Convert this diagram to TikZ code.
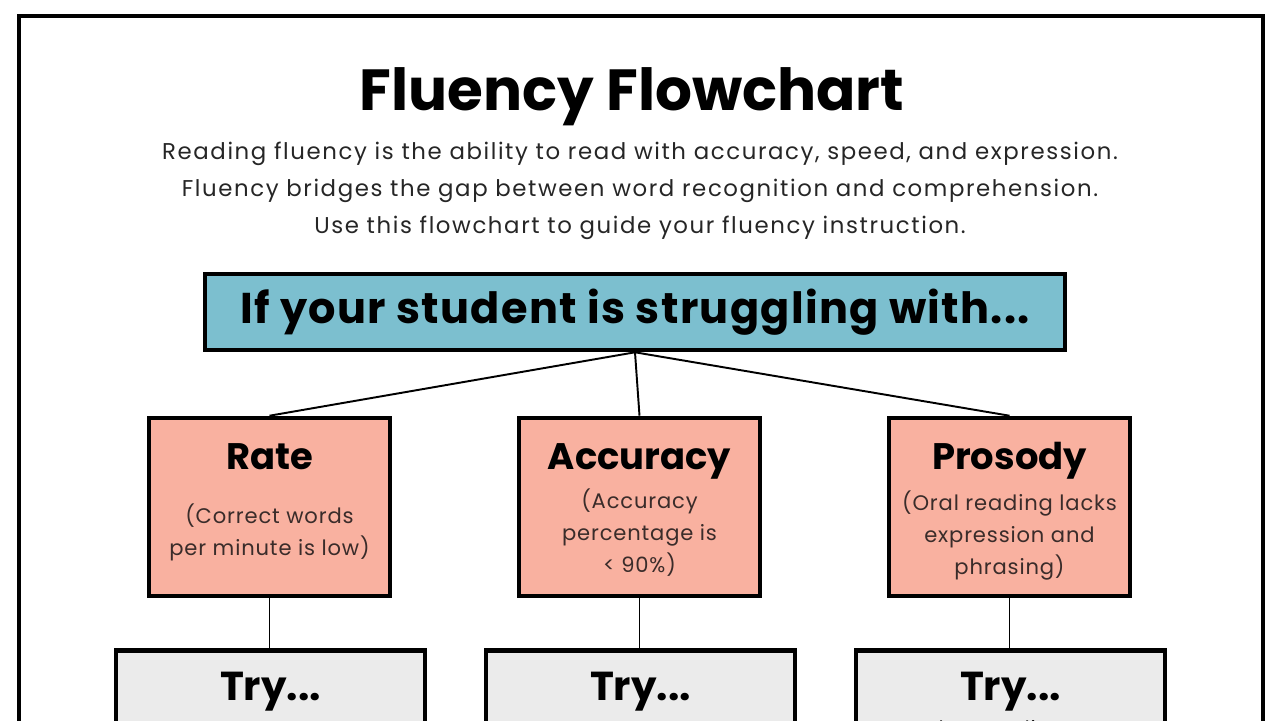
\documentclass[tikz,border=0pt]{standalone}
\usepackage{fontspec}
\setmainfont{Poppins}
\usetikzlibrary{positioning}

\definecolor{askblue}{HTML}{7CBFCF}
\definecolor{issuesalmon}{HTML}{F9B1A0}
\definecolor{trygray}{HTML}{EBEBEB}
\definecolor{desctext}{HTML}{3A2C2A}

\begin{document}
\begin{tikzpicture}[node distance=.3cm and 1cm]
  \tikzstyle{askbox} = [rectangle, draw=black, line width=2.6pt, fill=askblue, minimum width=17.2cm, minimum height=1.52cm, inner sep=0pt]
  \tikzstyle{issuebox} = [rectangle, draw=black, line width=2.6pt, fill=issuesalmon, minimum width=4.82cm, minimum height=3.56cm]
  \tikzstyle{trybox} = [rectangle, draw=black, line width=2.6pt, fill=trygray, minimum width=6.18cm, minimum height=4cm, anchor=north]
  \tikzstyle{issuehead} = [anchor=base, inner sep=0pt, font=\bfseries\fontsize{21}{25}\selectfont]
  \tikzstyle{issuetext} = [anchor=north, inner sep=0pt, align=center, text=desctext, font=\addfontfeatures{LetterSpace=4}\fontsize{12}{18.2}\selectfont]
  \tikzstyle{tryhead} = [anchor=base, inner sep=0pt, font=\bfseries\fontsize{23}{27}\selectfont]
  \tikzstyle{connector} = [line width=1.1pt]

  % Page and frame
  \useasboundingbox (0,0) rectangle (25.6,-14.4);
  \clip (0,0) rectangle (25.6,-14.4);
  \fill[white] (0,0) rectangle (25.6,-14.4);
  \draw[line width=2.6pt] (0.38,-0.32) rectangle (25.26,-15);

  % Heading
  \node (title) at (12.64,-2.2) [anchor=base, font=\bfseries\fontsize{33}{40}\selectfont] {Fluency Flowchart};
  \node (intro) at (12.8,-3.82) [align=center, text=black!85, font=\addfontfeatures{LetterSpace=7}\fontsize{13}{21}\selectfont]
    {Reading fluency is the ability to read with accuracy, speed, and expression.\\
     Fluency bridges the gap between word recognition and comprehension.\\
     Use this flowchart to guide your fluency instruction.};

  % Question box
  \node (ask) at (12.7,-6.24) [askbox, font=\bfseries\addfontfeatures{LetterSpace=3}\fontsize{24.5}{28}\selectfont] {If your student is struggling with...};

  % Problem areas
  \node (rate) at (5.39,-10.14) [issuebox] {};
  \node (accuracy) at (12.79,-10.14) [issuebox] {};
  \node (prosody) at (20.19,-10.14) [issuebox] {};
  \node (ratehead) at (5.39,-9.39) [issuehead] {Rate};
  \node (accuracyhead) at (12.79,-9.38) [issuehead] {Accuracy};
  \node (prosodyhead) at (20.19,-9.38) [issuehead] {Prosody};
  \node (ratetext) at (5.39,-10.07) [issuetext] {(Correct words\\per minute is low)};
  \node (accuracytext) at (12.79,-9.76) [issuetext] {(Accuracy\\percentage is\\< 90\%)};
  \node (prosodytext) at (20.19,-9.81) [issuetext] {(Oral reading lacks\\expression and\\phrasing)};

  % Suggestions
  \node (tryrate) at (5.41,-12.96) [trybox] {};
  \node (tryaccuracy) at (12.81,-12.96) [trybox] {};
  \node (tryprosody) at (20.21,-12.96) [trybox] {};
  \node (tryratehead) at (5.41,-14.0) [tryhead] {Try...};
  \node (tryaccuracyhead) at (12.81,-14.0) [tryhead] {Try...};
  \node (tryprosodyhead) at (20.21,-14.0) [tryhead] {Try...};
  \node (echo) at (18.14,-14.62) [anchor=west, font=\addfontfeatures{LetterSpace=4}\fontsize{12}{14}\selectfont] {Echo Reading};

  % Connectors
  \draw[connector] (ask.south) -- (rate.north);
  \draw[connector] (ask.south) -- (accuracy.north);
  \draw[connector] (ask.south) -- (prosody.north);
  \draw[connector] (rate.south) -- (rate.south |- tryrate.north);
  \draw[connector] (accuracy.south) -- (accuracy.south |- tryaccuracy.north);
  \draw[connector] (prosody.south) -- (prosody.south |- tryprosody.north);
\end{tikzpicture}
\end{document}
